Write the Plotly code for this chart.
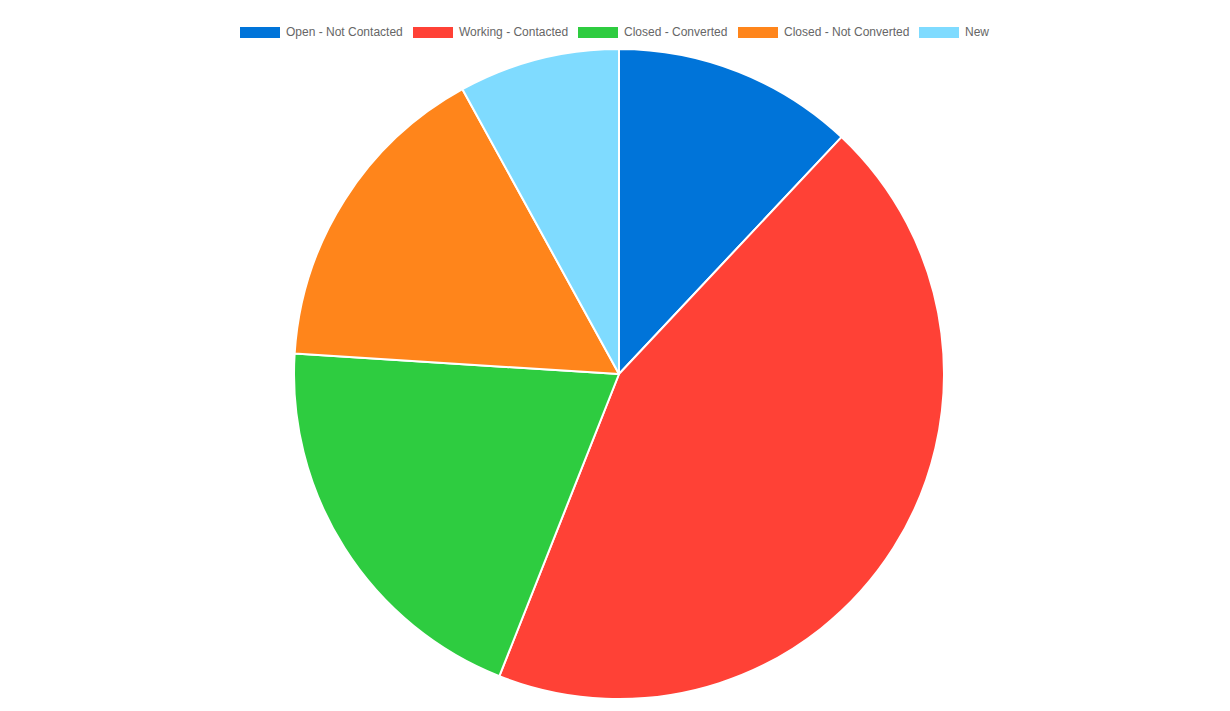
import plotly.graph_objects as go

labels = ["Open - Not Contacted", "Working - Contacted", "Closed - Converted", "Closed - Not Converted", "New"]
values = [3, 11, 5, 4, 2]
colors = ["#0074D9", "#FF4136", "#2ECC40", "#FF851B", "#7FDBFF"]

W, H = 1230, 711
OFF = 8  # page body margin
cx, cy, r = 619 - OFF, 374 - OFF, 325

fig = go.Figure(go.Pie(
    labels=labels, values=values, sort=False, direction="clockwise", rotation=0,
    marker=dict(colors=colors, line=dict(color="white", width=2)),
    textinfo="none", hoverinfo="label+value+percent", showlegend=False,
    domain=dict(x=[(cx - r) / W, (cx + r) / W], y=[(H - cy - r) / H, (H - cy + r) / H]),
))

# custom legend (layout positions, pixels)
legend_box_x = [240, 413, 578, 738, 919]
box_w, box_top, box_bot = 40, 27, 38
shapes, annos = [], []
for lab, col, bx in zip(labels, colors, legend_box_x):
    bx -= OFF
    shapes.append(dict(type="rect", xref="paper", yref="paper",
                       x0=bx / W, x1=(bx + box_w) / W,
                       y0=1 - (box_bot - OFF) / H, y1=1 - (box_top - OFF) / H,
                       fillcolor=col, line=dict(width=0)))
    annos.append(dict(text=lab, xref="paper", yref="paper", x=(bx + box_w + 4) / W,
                      y=1 - (31.5 - OFF) / H, xanchor="left", yanchor="middle", showarrow=False,
                      font=dict(family="Liberation Sans, Arial, sans-serif", size=12, color="#666666")))

fig.update_layout(width=W, height=H, margin=dict(l=0, r=0, t=0, b=0),
                  paper_bgcolor="white", plot_bgcolor="white",
                  shapes=shapes, annotations=annos)
fig.write_html("out.html")
